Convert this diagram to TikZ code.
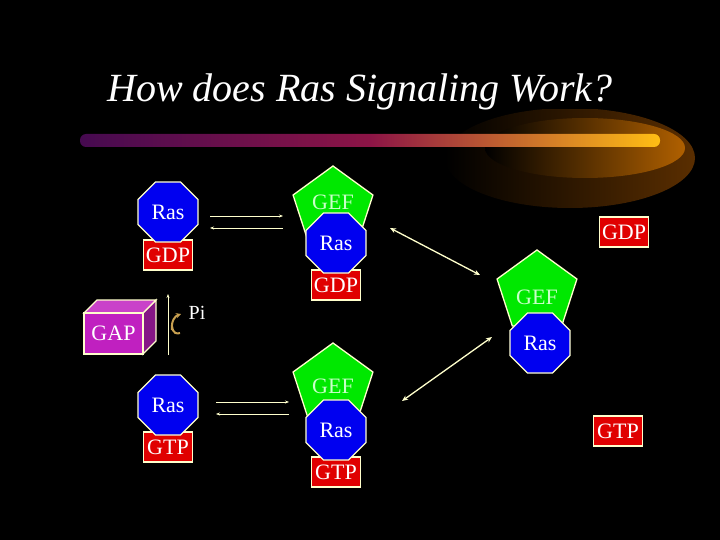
\documentclass[tikz,border=0pt]{standalone}
\usepackage{fontspec}
\setmainfont{Liberation Serif}
\usetikzlibrary{shapes.geometric,arrows.meta}
\definecolor{cream}{HTML}{FFFFCC}
\definecolor{rasblue}{HTML}{0000F0}
\definecolor{gdpred}{HTML}{E00000}
\definecolor{gefgreen}{HTML}{00E800}
\definecolor{geftext}{HTML}{C8FFC8}
\definecolor{gapmag}{HTML}{C020C0}
\definecolor{gold}{HTML}{C8A050}
\definecolor{glowA}{HTML}{5A2E00}
\definecolor{glowB}{HTML}{B06000}
\tikzset{
  ras/.style={regular polygon,regular polygon sides=8,minimum size=65pt,inner sep=0pt,fill=rasblue,draw=cream,line width=1.3pt,text=white,font=\fontsize{22}{24}\selectfont},
  gef/.style={regular polygon,regular polygon sides=5,minimum size=84pt,inner sep=0pt,fill=gefgreen,draw=cream,line width=1.3pt,text=geftext,font=\fontsize{22}{24}\selectfont},
  nuc/.style={rectangle,minimum width=49pt,minimum height=30pt,inner sep=0pt,fill=gdpred,draw=cream,line width=1.3pt,text=white,font=\fontsize{22}{24}\selectfont},
  arr/.style={cream,line width=0.8pt,-{Stealth[length=4pt,width=3pt]}},
  darr/.style={cream,line width=1.3pt,{Stealth[length=6pt,width=5pt]}-{Stealth[length=6pt,width=5pt]}},
  lbl/.style={text=white,font=\fontsize{22}{24}\selectfont}
}
\begin{document}
\begin{tikzpicture}[x=1pt,y=-1pt]
\fill[black] (0,0) rectangle (720,540);
\useasboundingbox (0,0) rectangle (720,540);
% glow
\begin{scope}
\clip (445,110) rectangle (720,215);
\shade[left color=black,right color=glowA] (570,158) ellipse (125 and 50);
\shade[left color=black,right color=glowB] (585,148) ellipse (100 and 30);
\end{scope}
% bar
\shade[left color={rgb,255:red,70;green,10;blue,80},right color={rgb,255:red,255;green,190;blue,20},middle color={rgb,255:red,140;green,20;blue,70},rounded corners=6pt]
  (80,134) rectangle (660,147);
\node[text=white,font=\fontsize{40}{44}\selectfont\itshape] (title) at (360,92) {How does Ras Signaling Work?};
% top-left
\node[nuc] (gdp1) at (168,255) {GDP};
\node[ras] (ras1) at (168,212) {Ras};
% top-middle
\node[gef] (gef1) at (333,208) {};
\node[lbl,text=geftext] (geft1) at (333,202) {GEF};
\node[nuc] (gdp2) at (336,285) {GDP};
\node[ras] (ras2) at (336,243) {Ras};
% GAP box
\fill[gapmag!70!black,draw=cream,line width=1.3pt] (143,313) -- (156,300) -- (156,341) -- (143,354) -- cycle;
\fill[gapmag!85!white,draw=cream,line width=1.3pt] (84,313) -- (97,300) -- (156,300) -- (143,313) -- cycle;
\node[rectangle,minimum width=59pt,minimum height=41pt,inner sep=0pt,fill=gapmag,draw=cream,line width=1.3pt,text=white,font=\fontsize{22}{24}\selectfont] (gap) at (113.5,333.5) {GAP};
% GTP side
\coordinate (vb) at (168,355);
\coordinate (vt) at (168,294);
\draw[arr,line width=1pt] (vb) -- (vt);
\draw[gold,line width=2pt,-{Stealth[length=5pt,width=5pt]}] (172,330) .. controls (171,321) and (175,316) .. (181,314);
\draw[gold,line width=2pt] (172,326) .. controls (173,334) and (177,334) .. (180,333);
\node[lbl,font=\fontsize{20}{22}\selectfont] (pi) at (197,313) {Pi};
% bottom-left
\node[nuc] (gtp1) at (168,447) {GTP};
\node[ras] (ras3) at (168,405) {Ras};
% bottom-middle
\node[gef] (gef2) at (333,385) {};
\node[lbl,text=geftext] (geft2) at (333,386) {GEF};
\node[nuc] (gtp2) at (336,472) {GTP};
\node[ras] (ras4) at (336,430) {Ras};
% right
\node[nuc] (gdp3) at (624,232) {GDP};
\node[gef] (gef3) at (537,292) {};
\node[lbl,text=geftext] (geft3) at (537,297) {GEF};
\node[ras] (ras5) at (540,343) {Ras};
\node[nuc] (gtp3) at (618,431) {GTP};
% arrows top
\coordinate (t1a) at (210,216); \coordinate (t1b) at (283,216);
\coordinate (t2a) at (283,228); \coordinate (t2b) at (210,228);
\draw[arr] (t1a) -- (t1b);
\draw[arr] (t2a) -- (t2b);
\coordinate (b1a) at (216,402); \coordinate (b1b) at (289,402);
\coordinate (b2a) at (289,414); \coordinate (b2b) at (216,414);
\draw[arr] (b1a) -- (b1b);
\draw[arr] (b2a) -- (b2b);
% diagonal double arrows
\coordinate (d1a) at (390,228); \coordinate (d1b) at (480,275);
\coordinate (d2a) at (402,401); \coordinate (d2b) at (492,337);
\draw[darr] (d1a) -- (d1b);
\draw[darr] (d2a) -- (d2b);
\end{tikzpicture}
\end{document}
